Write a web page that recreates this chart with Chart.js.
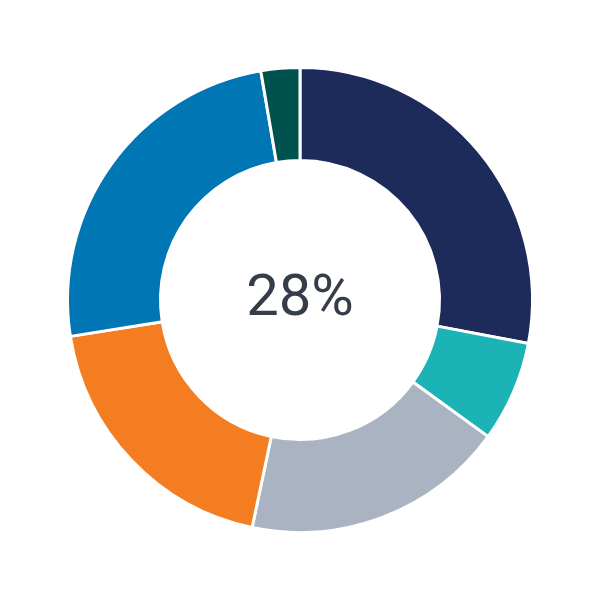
<!DOCTYPE html>
<html>
<head>
<meta charset="utf-8">
<script src="https://cdn.jsdelivr.net/npm/chart.js@4"></script>
<style>
html,body{margin:0;padding:0;background:#fff;}
#wrap{position:relative;width:600px;height:600px;}
#center{position:absolute;left:0;top:-5px;width:600px;height:600px;display:flex;align-items:center;justify-content:center;font-family:Roboto,sans-serif;font-size:58px;color:#343d48;pointer-events:none;}
</style>
</head>
<body>
<div id="wrap"><canvas id="c" width="600" height="600"></canvas><div id="center"></div></div>
<script>
const categories = ["A","B","C","D","E","F"];
const values = [28, 7, 18.3, 19.2, 24.8, 2.7];
const colors = ["#1c2b5a","#1bb3b6","#a9b3c1","#f37d20","#0076b5","#00524f"];
const centerLabel = "28%";

document.getElementById('center').textContent = centerLabel;
new Chart(document.getElementById('c'), {
  type: 'doughnut',
  data: { labels: categories, datasets: [{ data: values, backgroundColor: colors, borderColor: '#ffffff', borderWidth: 3 }] },
  options: {
    responsive: false, animation: false, cutout: '60%',
    layout: { padding: 66 },
    plugins: { legend: { display: false }, tooltip: { enabled: false } }
  }
});
</script>
</body>
</html>
